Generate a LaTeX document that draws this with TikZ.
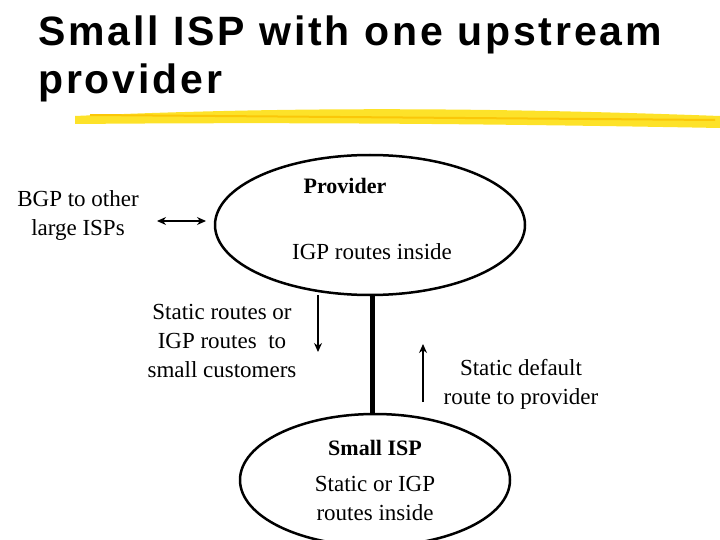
\documentclass[tikz,border=0pt]{standalone}
\usepackage{fontspec}
\setmainfont{Liberation Serif}
\newfontfamily\titlefont[LetterSpace=7]{Liberation Sans}
\usetikzlibrary{arrows.meta}
\begin{document}
\begin{tikzpicture}[x=1pt,y=-1pt,
  lbl/.style={font=\fontsize{23}{29}\selectfont, align=center, inner sep=0},
  arr/.style={-{Stealth[length=9pt,width=8pt]}, line width=1.3pt}]
\useasboundingbox (0,0) rectangle (720,540);
\node[anchor=base west, inner sep=0, font=\titlefont\bfseries\fontsize{41}{47}\selectfont, align=left] (t1) at (38,46) {Small ISP with one upstream};
\node[anchor=base west, inner sep=0, font=\titlefont\bfseries\fontsize{41}{47}\selectfont] (t2) at (38,94) {provider};
\fill[yellow!80!orange, opacity=0.85] (75,116) .. controls (300,106) and (500,108) .. (720,116) -- (720,128) .. controls (500,124) and (300,122) .. (75,124) -- cycle;
\draw[line width=2pt, yellow!60!orange] (90,115) -- (715,120);
\draw[line width=2.5pt] (370,225) ellipse [x radius=155, y radius=70];
\draw[line width=2.5pt] (375,480) ellipse [x radius=135, y radius=66];
\coordinate (pb) at (372,295);
\coordinate (st) at (372,414);
\draw[line width=5pt] (pb) -- (st);
\node[lbl, font=\bfseries\fontsize{22}{29}\selectfont, anchor=base] (prov) at (345,194) {Provider};
\node[lbl, anchor=base] (igp) at (372,259) {IGP routes inside};
\node[lbl] (bgp) at (78,216) {BGP to other\\large ISPs};
\coordinate (a1) at (157,221); \coordinate (a2) at (206,221);
\draw[{Stealth[length=9pt,width=8pt]}-{Stealth[length=9pt,width=8pt]}, line width=1.3pt] (a1) -- (a2);
\node[lbl] (sr) at (222,341) {Static routes or\\IGP routes\ \ to\\small customers};
\coordinate (d1) at (318,295); \coordinate (d2) at (318,352);
\draw[arr] (d1) -- (d2);
\coordinate (u1) at (423,402); \coordinate (u2) at (423,344);
\draw[arr] (u1) -- (u2);
\node[lbl] (sd) at (521,384) {Static default\\route to provider};
\node[lbl, font=\bfseries\fontsize{22}{29}\selectfont, anchor=base] (sisp) at (375,455) {Small ISP};
\node[lbl] (sig) at (375,498) {Static or IGP\\routes inside};
\end{tikzpicture}
\end{document}
